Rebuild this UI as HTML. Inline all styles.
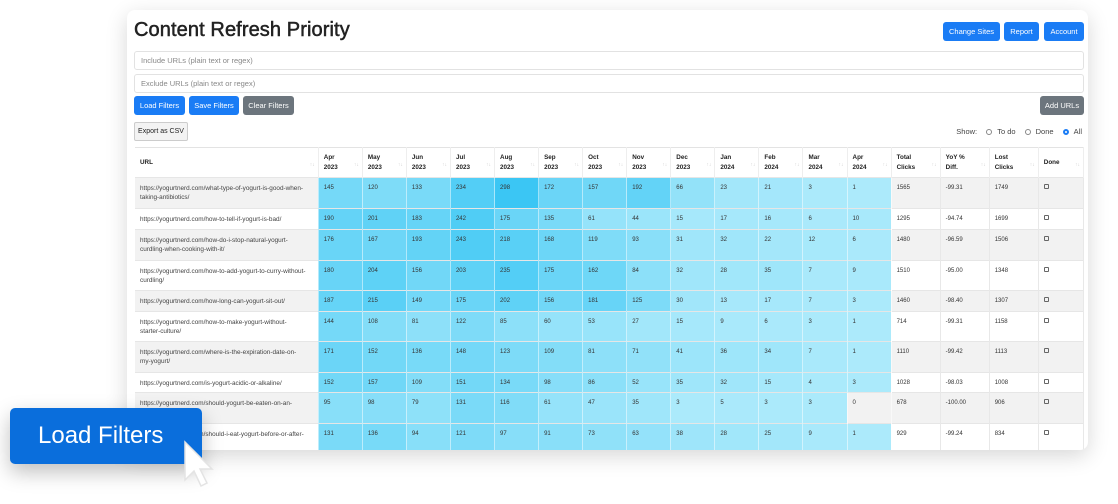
<!DOCTYPE html>
<html><head><meta charset="utf-8">
<style>
*{box-sizing:border-box;margin:0;padding:0}
body{width:1118px;height:504px;background:#fff;font-family:"Liberation Sans",sans-serif;position:relative;overflow:hidden}
.card{position:absolute;left:127px;top:10px;width:961px;height:440px;background:#fff;border-radius:8px;box-shadow:0 6px 22px rgba(0,0,0,.16);overflow:hidden}
h1{position:absolute;left:7px;top:9px;font-size:20px;font-weight:normal;color:#222;letter-spacing:.1px;-webkit-text-stroke:.5px #222}
.btn{position:absolute;height:19px;border-radius:3px;color:#fff;font-size:7.5px;line-height:19px;text-align:center;background:#1a7cf5}
.gray{background:#6c757d}
.inp{position:absolute;left:7px;width:950px;height:19px;border:1px solid #e2e2e2;border-radius:3px;font-size:7.5px;color:#888;padding-left:6px;line-height:17px}
.exp{position:absolute;left:7px;top:112px;width:54px;height:19px;border:1px solid #ccc;border-radius:2px;background:#f3f3f3;font-size:7px;line-height:17px;text-align:center;color:#222}
.show{position:absolute;right:6px;top:117px;font-size:7.5px;color:#444}
.show i{display:inline-block;width:6px;height:6px;border:1px solid #888;border-radius:50%;margin:0 5px 0 7px;vertical-align:-1px}
.show i.on{border:2px solid #1a7cf5;background:#fff}
table{position:absolute;left:8px;top:137px;border-collapse:collapse;table-layout:fixed;width:949px;font-size:6px;color:#333}
th{height:30px;text-align:left;font-weight:bold;font-size:6.3px;color:#222;padding:0 5px;vertical-align:middle;border-right:1px solid #eee;border-top:1px solid #e3e3e3;line-height:10px;position:relative}
th:after{content:"↑↓";position:absolute;right:3px;bottom:7px;font-size:5px;color:#ccc;font-weight:normal}
td{padding:6px 5px 0;vertical-align:top;border-right:1px solid rgba(255,255,255,.5);border-top:1px solid #e6e6e6;line-height:9px}
td.u{font-size:6.4px;color:#444;padding-right:12px;word-break:normal}
tr.g td.u,tr.g td.s{background:#f2f2f2}
td.s{border-right:1px solid #e8e8e8}
.cb{display:inline-block;width:5px;height:5px;border:1px solid #666;border-radius:1px}
.lf{position:absolute;left:10px;top:408px;width:192px;height:56px;background:#0a6edc;border-radius:5px;color:#fff;font-size:24px;line-height:56px;padding-left:28px;box-shadow:0 8px 20px rgba(0,0,0,.25)}
</style></head><body>
<div class="card">
<h1>Content Refresh Priority</h1>
<div class="btn" style="left:816px;top:12px;width:57px">Change Sites</div>
<div class="btn" style="left:877px;top:12px;width:35px">Report</div>
<div class="btn" style="left:917px;top:12px;width:40px">Account</div>
<div class="inp" style="top:41px">Include URLs (plain text or regex)</div>
<div class="inp" style="top:64px">Exclude URLs (plain text or regex)</div>
<div class="btn" style="left:7px;top:86px;width:51px">Load Filters</div>
<div class="btn" style="left:62px;top:86px;width:50px">Save Filters</div>
<div class="btn gray" style="left:116px;top:86px;width:51px">Clear Filters</div>
<div class="btn gray" style="left:913px;top:86px;width:44px">Add URLs</div>
<div class="exp">Export as CSV</div>
<div class="show">Show: <i></i>To do <i></i>Done <i class="on"></i>All</div>
<table id="t">
<colgroup><col style="width:183px"><col span="13" style="width:44px"><col span="3" style="width:49px"><col style="width:45px"></colgroup>
<tr><th>URL</th><th>Apr<br>2023</th><th>May<br>2023</th><th>Jun<br>2023</th><th>Jul<br>2023</th><th>Aug<br>2023</th><th>Sep<br>2023</th><th>Oct<br>2023</th><th>Nov<br>2023</th><th>Dec<br>2023</th><th>Jan<br>2024</th><th>Feb<br>2024</th><th>Mar<br>2024</th><th>Apr<br>2024</th><th>Total<br>Clicks</th><th>YoY %<br>Diff.</th><th>Lost<br>Clicks</th><th>Done</th></tr>
<tr class="g" style="height:31px"><td class="u">https://yogurtnerd.com/what-type-of-yogurt-is-good-when-taking-antibiotics/</td><td class="h">145</td><td class="h">120</td><td class="h">133</td><td class="h">234</td><td class="h">298</td><td class="h">172</td><td class="h">157</td><td class="h">192</td><td class="h">66</td><td class="h">23</td><td class="h">21</td><td class="h">3</td><td class="h">1</td><td class="s">1565</td><td class="s">-99.31</td><td class="s">1749</td><td class="s"><span class="cb"></span></td></tr>
<tr style="height:21px"><td class="u">https://yogurtnerd.com/how-to-tell-if-yogurt-is-bad/</td><td class="h">190</td><td class="h">201</td><td class="h">183</td><td class="h">242</td><td class="h">175</td><td class="h">135</td><td class="h">61</td><td class="h">44</td><td class="h">15</td><td class="h">17</td><td class="h">16</td><td class="h">6</td><td class="h">10</td><td class="s">1295</td><td class="s">-94.74</td><td class="s">1699</td><td class="s"><span class="cb"></span></td></tr>
<tr class="g" style="height:31px"><td class="u">https://yogurtnerd.com/how-do-i-stop-natural-yogurt-curdling-when-cooking-with-it/</td><td class="h">176</td><td class="h">167</td><td class="h">193</td><td class="h">243</td><td class="h">218</td><td class="h">168</td><td class="h">119</td><td class="h">93</td><td class="h">31</td><td class="h">32</td><td class="h">22</td><td class="h">12</td><td class="h">6</td><td class="s">1480</td><td class="s">-96.59</td><td class="s">1506</td><td class="s"><span class="cb"></span></td></tr>
<tr style="height:30px"><td class="u">https://yogurtnerd.com/how-to-add-yogurt-to-curry-without-curdling/</td><td class="h">180</td><td class="h">204</td><td class="h">156</td><td class="h">203</td><td class="h">235</td><td class="h">175</td><td class="h">162</td><td class="h">84</td><td class="h">32</td><td class="h">28</td><td class="h">35</td><td class="h">7</td><td class="h">9</td><td class="s">1510</td><td class="s">-95.00</td><td class="s">1348</td><td class="s"><span class="cb"></span></td></tr>
<tr class="g" style="height:21px"><td class="u">https://yogurtnerd.com/how-long-can-yogurt-sit-out/</td><td class="h">187</td><td class="h">215</td><td class="h">149</td><td class="h">175</td><td class="h">202</td><td class="h">156</td><td class="h">181</td><td class="h">125</td><td class="h">30</td><td class="h">13</td><td class="h">17</td><td class="h">7</td><td class="h">3</td><td class="s">1460</td><td class="s">-98.40</td><td class="s">1307</td><td class="s"><span class="cb"></span></td></tr>
<tr style="height:30px"><td class="u">https://yogurtnerd.com/how-to-make-yogurt-without-starter-culture/</td><td class="h">144</td><td class="h">108</td><td class="h">81</td><td class="h">122</td><td class="h">85</td><td class="h">60</td><td class="h">53</td><td class="h">27</td><td class="h">15</td><td class="h">9</td><td class="h">6</td><td class="h">3</td><td class="h">1</td><td class="s">714</td><td class="s">-99.31</td><td class="s">1158</td><td class="s"><span class="cb"></span></td></tr>
<tr class="g" style="height:31px"><td class="u">https://yogurtnerd.com/where-is-the-expiration-date-on-my-yogurt/</td><td class="h">171</td><td class="h">152</td><td class="h">136</td><td class="h">148</td><td class="h">123</td><td class="h">109</td><td class="h">81</td><td class="h">71</td><td class="h">41</td><td class="h">36</td><td class="h">34</td><td class="h">7</td><td class="h">1</td><td class="s">1110</td><td class="s">-99.42</td><td class="s">1113</td><td class="s"><span class="cb"></span></td></tr>
<tr style="height:20px"><td class="u">https://yogurtnerd.com/is-yogurt-acidic-or-alkaline/</td><td class="h">152</td><td class="h">157</td><td class="h">109</td><td class="h">151</td><td class="h">134</td><td class="h">98</td><td class="h">86</td><td class="h">52</td><td class="h">35</td><td class="h">32</td><td class="h">15</td><td class="h">4</td><td class="h">3</td><td class="s">1028</td><td class="s">-98.03</td><td class="s">1008</td><td class="s"><span class="cb"></span></td></tr>
<tr class="g" style="height:31px"><td class="u">https://yogurtnerd.com/should-yogurt-be-eaten-on-an-empty-</td><td class="h">95</td><td class="h">98</td><td class="h">79</td><td class="h">131</td><td class="h">116</td><td class="h">61</td><td class="h">47</td><td class="h">35</td><td class="h">3</td><td class="h">5</td><td class="h">3</td><td class="h">3</td><td class="h z">0</td><td class="s">678</td><td class="s">-100.00</td><td class="s">906</td><td class="s"><span class="cb"></span></td></tr>
<tr style="height:30px"><td class="u">https://yogurtnerd.com/should-i-eat-yogurt-before-or-after-a-</td><td class="h">131</td><td class="h">136</td><td class="h">94</td><td class="h">121</td><td class="h">97</td><td class="h">91</td><td class="h">73</td><td class="h">63</td><td class="h">38</td><td class="h">28</td><td class="h">25</td><td class="h">9</td><td class="h">1</td><td class="s">929</td><td class="s">-99.24</td><td class="s">834</td><td class="s"><span class="cb"></span></td></tr>
</table>
</div>
<div class="lf">Load Filters</div>
<svg style="position:absolute;left:183px;top:440px" width="40" height="60"><path d="M2 2 L2 40 L11 31 L18 46 L24 43 L17 29 L29 29 Z" fill="#fff" stroke="#e4e4e4" stroke-width="1.5"/></svg>
<script>
document.querySelectorAll('td.h').forEach(function(c){
 var v=parseFloat(c.textContent);
 if(c.classList.contains('z')){c.style.background='#f2f2f2';return;}
 var t=Math.min(v/300,1);
 var a=[172,234,251],b=[58,198,244];
 c.style.background='rgb('+a.map(function(x,i){return Math.round(x+(b[i]-x)*t)}).join(',')+')';
});
</script>
</body></html>
